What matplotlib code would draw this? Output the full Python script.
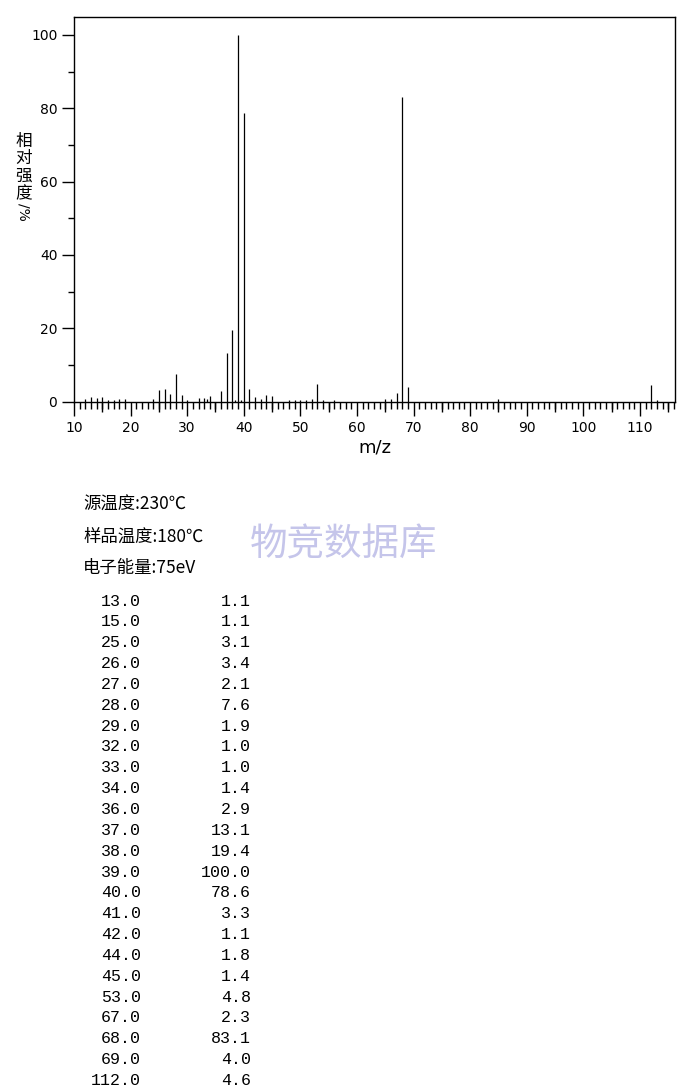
import numpy as np
import matplotlib
matplotlib.use("Agg")
import matplotlib.pyplot as plt

# 质谱数据 (m/z, 相对强度 %) - 表中列出的峰
mz_table = [13, 15, 25, 26, 27, 28, 29, 32, 33, 34, 36, 37, 38, 39, 40, 41,
            42, 44, 45, 53, 67, 68, 69, 112]
int_table = [1.1, 1.1, 3.1, 3.4, 2.1, 7.6, 1.9, 1.0, 1.0, 1.4, 2.9, 13.1,
             19.4, 100.0, 78.6, 3.3, 1.1, 1.8, 1.4, 4.8, 2.3, 83.1, 4.0, 4.6]

# 图中可见但未列入表的小峰 (<1%)，估读
mz_small = [12, 14, 16, 17, 18, 19, 24, 30, 33.5, 38.5, 39.5, 43, 48, 49,
            50, 51, 52, 54, 56, 65, 66, 85, 113]
int_small = [0.8, 0.9, 0.5, 0.5, 0.8, 0.6, 0.8, 0.5, 0.6, 0.4, 0.4, 0.6, 0.5,
             0.5, 0.4, 0.5, 0.7, 0.5, 0.3, 0.6, 0.8, 0.6, 0.5]

info_lines = ["源温度:230℃", "样品温度:180℃", "电子能量:75eV"]
watermark = "物竞数据库"
ylabel_chars = ["相", "对", "强", "度"]

W, H = 687, 1089
fig = plt.figure(figsize=(W / 100, H / 100), dpi=100)
fig.patch.set_facecolor("white")

# 轴的像素位置
left, right, top, base = 74, 675, 17, 401.5
ax = fig.add_axes([left / W, 1 - base / H, (right - left) / W, (base - top) / H])

mz_all = np.array(mz_table + mz_small, dtype=float)
int_all = np.array(int_table + int_small, dtype=float)
ax.vlines(mz_all, 0, int_all, color="black", linewidth=0.9)

ax.set_xlim(10, 116.2)
ax.set_ylim(0, 104.9)

for s in ax.spines.values():
    s.set_linewidth(1.0)
    s.set_color("black")

ax.set_xticks(np.arange(10, 111, 10))
ax.set_xticks(np.arange(11, 117, 1), minor=True)
ax.set_yticks(np.arange(0, 101, 20))
ax.set_yticks(np.arange(10, 101, 20), minor=True)
ax.tick_params(axis="x", which="major", direction="out", length=10, width=1.0,
               labelsize=10, pad=4)
ax.tick_params(axis="x", which="minor", direction="out", length=5, width=1.0)
ax.tick_params(axis="y", which="major", direction="out", length=9, width=1.0,
               labelsize=10, pad=3)
ax.tick_params(axis="y", which="minor", direction="out", length=4.5, width=1.0)

# 5 的倍数处的中等刻度
sec = ax.secondary_xaxis("bottom")
sec.set_xticks(np.arange(15, 116, 10))
sec.set_xticklabels([])
sec.tick_params(length=7.5, width=1.0, direction="out")
sec.spines["bottom"].set_visible(False)

fig.text(374.5 / W, 1 - 448 / H, "m/z", ha="center", va="center",
         fontsize=13, family="DejaVu Sans")

# 纵轴标签: 竖排
cjk = ["Noto Sans CJK SC", "DejaVu Sans"]
y0 = 141
for i, ch in enumerate(ylabel_chars):
    fig.text(24 / W, 1 - (y0 + i * 17.5) / H, ch, ha="center", va="center",
             fontsize=12, family=cjk)
fig.text(24 / W, 1 - 212 / H, "/%", ha="center", va="center", fontsize=10,
         rotation=-90, family="DejaVu Sans")

# 实验条件
for i, line in enumerate(info_lines):
    fig.text(83 / W, 1 - (505 + i * 31.5) / H, line, ha="left", va="center",
             fontsize=12.5, family=cjk)

fig.text(344 / W, 1 - 545 / H, watermark, ha="center", va="center",
         fontsize=27, color="#c5c5ea", family=cjk)

# 峰表
for i, (m, v) in enumerate(zip(mz_table, int_table)):
    yy = 1 - (601 + i * 20.85) / H
    fig.text(141 / W, yy, f"{m:.1f}", ha="right", va="center",
             fontsize=12, family="Liberation Mono")
    fig.text(251 / W, yy, f"{v:.1f}", ha="right", va="center",
             fontsize=12, family="Liberation Mono")

fig.savefig("out.png", dpi=100)
